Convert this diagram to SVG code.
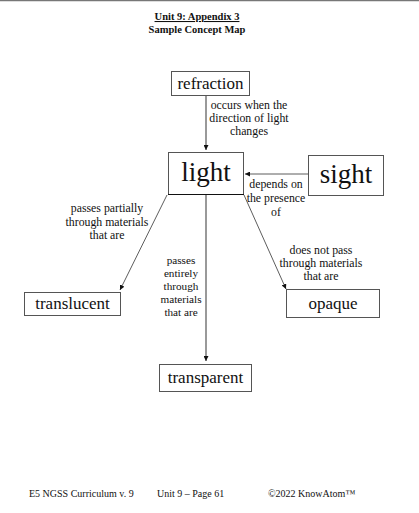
<svg xmlns="http://www.w3.org/2000/svg" width="419" height="513" viewBox="0 0 419 513">
<style>
text{font-family:"Liberation Serif","Times New Roman",serif;fill:#111}
.box{fill:#fff;stroke:#555;stroke-width:1}
.node{font-size:17px;text-anchor:middle}
.big{font-size:27px;text-anchor:middle}
.lbl{font-size:11.8px;text-anchor:middle}
.lbl2{font-size:11.2px;text-anchor:middle}
.title{font-size:10.5px;font-weight:bold;text-anchor:middle}
.foot{font-size:10px}
.thick{stroke:#999;stroke-width:2;fill:none}
.thin{stroke:#333;stroke-width:0.8;fill:none}
</style>
<defs>
<marker id="ah" viewBox="0 0 10 10" refX="10" refY="5" markerWidth="5" markerHeight="5" markerUnits="userSpaceOnUse" orient="auto">
<path d="M0,0 L10,5 L0,10 z" fill="#111"/>
</marker>
</defs>
<rect width="419" height="513" fill="#fff"/>
<line x1="0" y1="0.5" x2="419" y2="0.5" stroke="#777" stroke-width="1.5"/>
<g id="title">
<text class="title" x="197" y="20" text-decoration="underline">Unit 9: Appendix 3</text>
<text class="title" x="197" y="32.5">Sample Concept Map</text>
</g>
<g id="connectors">
<line class="thick" x1="206" y1="96" x2="206" y2="150" marker-end="url(#ah)"/>
<line class="thin" x1="308" y1="174" x2="245" y2="174" marker-end="url(#ah)"/>
<line class="thin" x1="167" y1="195" x2="120" y2="290" marker-end="url(#ah)"/>
<line class="thick" x1="206" y1="195" x2="206" y2="361" marker-end="url(#ah)"/>
<line class="thin" x1="244" y1="195" x2="286" y2="289" marker-end="url(#ah)"/>
<text class="lbl" x="249" y="109">occurs when the</text>
<text class="lbl" x="249" y="122">direction of light</text>
<text class="lbl" x="249" y="135">changes</text>
<text class="lbl" x="276" y="188">depends on</text>
<text class="lbl" x="276" y="202">the presence</text>
<text class="lbl" x="276" y="216">of</text>
<text class="lbl" x="107" y="212">passes partially</text>
<text class="lbl" x="107" y="226">through materials</text>
<text class="lbl" x="107" y="239">that are</text>
<text class="lbl2" x="181" y="264">passes</text>
<text class="lbl2" x="181" y="277">entirely</text>
<text class="lbl2" x="181" y="290">through</text>
<text class="lbl2" x="181" y="303">materials</text>
<text class="lbl2" x="181" y="316">that are</text>
<text class="lbl" x="321" y="254">does not pass</text>
<text class="lbl" x="321" y="267">through materials</text>
<text class="lbl" x="321" y="280">that are</text>
</g>
<g id="refraction">
<rect class="box" x="171.5" y="71.5" width="78" height="24"/>
<text class="node" x="210.5" y="89">refraction</text>
</g>
<g id="light">
<rect class="box" x="168.5" y="152.5" width="75" height="42" stroke="#888"/>
<line x1="168" y1="194.5" x2="244" y2="194.5" stroke="#111" stroke-width="1.2"/>
<text class="big" x="206" y="181">light</text>
</g>
<g id="sight">
<rect class="box" x="308.5" y="155.5" width="75" height="40"/>
<text class="big" x="346" y="183">sight</text>
</g>
<g id="translucent">
<rect class="box" x="24.5" y="292.5" width="96" height="23"/>
<text class="node" x="72.5" y="309">translucent</text>
</g>
<g id="opaque">
<rect class="box" x="286.5" y="289.5" width="93" height="28"/>
<text class="node" x="333" y="308.5">opaque</text>
</g>
<g id="transparent">
<rect class="box" x="159.5" y="364.5" width="92" height="27"/>
<text class="node" x="205.5" y="383">transparent</text>
</g>
<g id="footer">
<text class="foot" x="29" y="497">E5 NGSS Curriculum v. 9</text>
<text class="foot" x="157" y="497">Unit 9 – Page 61</text>
<text class="foot" x="268" y="497">©2022 KnowAtom™</text>
</g>
</svg>
